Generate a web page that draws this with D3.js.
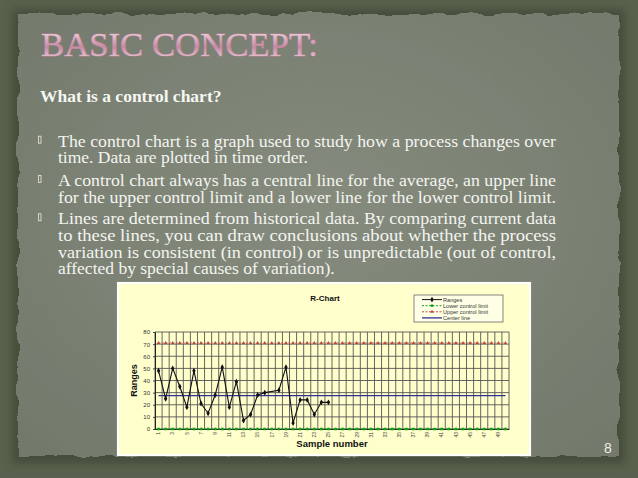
<!DOCTYPE html>
<html>
<head>
<meta charset="utf-8">
<script src="https://cdn.jsdelivr.net/npm/d3@7"></script>
<style>
  html, body { margin: 0; padding: 0; background: #565f4c; }
  svg { display: block; }
</style>
</head>
<body>
<svg id="slide"></svg>
<script>
// sample numbers on the x axis
const samples = d3.range(1, 51);
// measured ranges (null = no value)
const ranges = [48, 25, 50, 35, 18, 48, 21, 13, 28, 51,
                18, 39, 7, 12, 28, 30, null, 32, 51, 5,
                24, 24, 12, 22, 22, null, null, null, null, null,
                null, null, null, null, null, null, null, null, null, null,
                null, null, null, null, null, null, null, null, null, null];
const upperLimit = 71;
const lowerLimit = 0;
const centerLine = 27.6;
const yTicks = [0, 10, 20, 30, 40, 50, 60, 70, 80];
const xTickLabels = samples.filter(d => d % 2 === 1);
const legendLabels = ["Ranges", "Lower control limit", "Upper control limit", "Center line"];

const bullets = [
  ["The control chart is a graph used to study how a process changes over",
   "time. Data are plotted in time order."],
  ["A control chart always has a central line for the average, an upper line",
   "for the upper control limit and a lower line for the lower control limit."],
  ["Lines are determined from historical data. By comparing current data",
   "to these lines, you can draw conclusions about whether the process",
   "variation is consistent (in control) or is unpredictable (out of control,",
   "affected by special causes of variation)."]
];

const W = 638, H = 478;
const svg = d3.select("#slide").attr("width", W).attr("height", H);
const defs = svg.append("defs");

// rough torn paper edge
const rough = defs.append("filter").attr("id", "rough")
    .attr("x", "-5%").attr("y", "-5%").attr("width", "110%").attr("height", "110%");
rough.append("feTurbulence").attr("type", "fractalNoise")
    .attr("baseFrequency", 0.05).attr("numOctaves", 3).attr("seed", 4).attr("result", "n");
rough.append("feDisplacementMap").attr("in", "SourceGraphic").attr("in2", "n")
    .attr("scale", 8).attr("xChannelSelector", "R").attr("yChannelSelector", "G");

const blur = defs.append("filter").attr("id", "blur");
blur.append("feGaussianBlur").attr("stdDeviation", 4);

const paperGrad = defs.append("radialGradient").attr("id", "paperGrad")
    .attr("cx", "50%").attr("cy", "45%").attr("r", "70%");
paperGrad.append("stop").attr("offset", "0%").attr("stop-color", "#858c7e");
paperGrad.append("stop").attr("offset", "100%").attr("stop-color", "#737a6c");

const titleGrad = defs.append("linearGradient").attr("id", "titleGrad")
    .attr("x1", 0).attr("x2", 0).attr("y1", 0).attr("y2", 1);
titleGrad.append("stop").attr("offset", "0%").attr("stop-color", "#f6eaef");
titleGrad.append("stop").attr("offset", "55%").attr("stop-color", "#c68aa3");
titleGrad.append("stop").attr("offset", "100%").attr("stop-color", "#f0e0e6");

// background frame and paper
svg.append("rect").attr("width", W).attr("height", H).attr("fill", "#58614d");
svg.append("rect").attr("x", 12).attr("y", 9).attr("width", 613).attr("height", 455)
    .attr("fill", "#444d3a").attr("filter", "url(#blur)");
svg.append("rect").attr("x", 18).attr("y", 14).attr("width", 601).attr("height", 442)
    .attr("fill", "url(#paperGrad)").attr("filter", "url(#rough)");

// title and text
svg.append("text")
    .attr("x", 41).attr("y", 56)
    .attr("font-family", "Liberation Serif, Times New Roman, serif")
    .attr("font-size", 33)
    .attr("textLength", 277).attr("lengthAdjust", "spacingAndGlyphs")
    .attr("fill", "url(#titleGrad)")
    .attr("stroke", "#b98199").attr("stroke-width", 1.1)
    .attr("paint-order", "stroke")
    .text("BASIC CONCEPT:");

svg.append("text")
    .attr("x", 40).attr("y", 101.5)
    .attr("font-family", "Liberation Serif, Times New Roman, serif")
    .attr("font-weight", "bold").attr("font-size", 17.5)
    .attr("fill", "#f6f6f2")
    .text("What is a control chart?");

const firstBaselines = [146.7, 186, 224.3];
const lineGap = 16.6;
const textLeft = 58, textRight = 556;
bullets.forEach((lines, bi) => {
  const y0 = firstBaselines[bi];
  svg.append("rect")
      .attr("x", 38.5).attr("y", y0 - 10.5).attr("width", 2.5).attr("height", 7)
      .attr("fill", "none").attr("stroke", "#e8e8e2").attr("stroke-width", 0.8);
  lines.forEach((ln, li) => {
    const t = svg.append("text")
        .attr("x", textLeft).attr("y", y0 + li * lineGap)
        .attr("font-family", "Liberation Serif, Times New Roman, serif")
        .attr("font-size", 17.5)
        .attr("fill", "#f4f4f0")
        .text(ln);
    const last = li === lines.length - 1;
    if (!last || bi === 1) {
      t.attr("textLength", textRight - textLeft).attr("lengthAdjust", "spacingAndGlyphs");
    }
  });
});

// chart box
const box = {x: 118, y: 283, w: 412, h: 172};
svg.append("rect").attr("x", box.x - 1).attr("y", box.y - 1)
    .attr("width", box.w + 2).attr("height", box.h + 2)
    .attr("fill", "none").attr("stroke", "#8d8f86").attr("stroke-width", 1);
svg.append("rect").attr("x", box.x).attr("y", box.y)
    .attr("width", box.w).attr("height", box.h)
    .attr("fill", "#ffffcc").attr("stroke", "#ffffff").attr("stroke-width", 2);

const plot = {left: 155, right: 509, top: 332, bottom: 429};
const x = d3.scaleBand().domain(samples).range([plot.left, plot.right]).padding(0);
const y = d3.scaleLinear().domain([0, 80]).range([plot.bottom, plot.top]);
const cx = d => x(d) + x.bandwidth() / 2;

const g = svg.append("g").attr("font-family", "Liberation Sans, Arial, sans-serif");

// gridlines
g.append("g").selectAll("line")
    .data(samples.concat([null]))
  .join("line")
    .attr("x1", d => d === null ? plot.right : x(d))
    .attr("x2", d => d === null ? plot.right : x(d))
    .attr("y1", plot.top).attr("y2", plot.bottom)
    .attr("stroke", "#666").attr("stroke-width", 1);

g.append("g").selectAll("line")
    .data(yTicks)
  .join("line")
    .attr("x1", plot.left).attr("x2", plot.right)
    .attr("y1", d => y(d)).attr("y2", d => y(d))
    .attr("stroke", "#555").attr("stroke-width", 0.9);

// axes
const yAxis = g.append("g")
    .attr("transform", `translate(${plot.left},0)`)
    .call(d3.axisLeft(y).tickValues(yTicks).tickSize(2).tickPadding(3));
yAxis.select(".domain").attr("stroke", "#222");
yAxis.selectAll("text").attr("font-size", 6).attr("fill", "#333");
yAxis.selectAll(".tick line").attr("stroke", "#444");

const xAxis = g.append("g")
    .attr("transform", `translate(0,${plot.bottom})`)
    .call(d3.axisBottom(x).tickValues(xTickLabels).tickSize(0).tickPadding(3));
xAxis.select(".domain").attr("stroke", "#222");
xAxis.selectAll("text")
    .attr("font-size", 5).attr("fill", "#444")
    .attr("text-anchor", "end")
    .attr("dy", "0.35em").attr("x", -3).attr("y", 0)
    .attr("transform", "rotate(-90)");

// control lines
const limitLine = v => d3.line().x(d => cx(d)).y(() => y(v))(samples);

g.append("path").attr("d", limitLine(upperLimit))
    .attr("fill", "none").attr("stroke", "#c0504d").attr("stroke-width", 0.8)
    .attr("stroke-dasharray", "2,1.5");
g.append("g").selectAll("path")
    .data(samples)
  .join("path")
    .attr("transform", d => `translate(${cx(d)},${y(upperLimit)})`)
    .attr("d", d3.symbol(d3.symbolTriangle, 5))
    .attr("fill", "#b8463c");

g.append("path").attr("d", limitLine(lowerLimit))
    .attr("fill", "none").attr("stroke", "#1a9a1a").attr("stroke-width", 1)
    .attr("stroke-dasharray", "2,1.5");
g.append("g").selectAll("rect")
    .data(samples)
  .join("rect")
    .attr("x", d => cx(d) - 1.3).attr("y", y(lowerLimit) - 1.3)
    .attr("width", 2.6).attr("height", 2.6)
    .attr("fill", "#14a014");

g.append("path").attr("d", limitLine(centerLine))
    .attr("fill", "none").attr("stroke", "#2e3192").attr("stroke-width", 1.3);

// ranges series
const rangePts = samples.map((s, i) => ({s, v: ranges[i]})).filter(d => d.v !== null);
g.append("path")
    .attr("d", d3.line().x(d => cx(d.s)).y(d => y(d.v))(rangePts))
    .attr("fill", "none").attr("stroke", "#111").attr("stroke-width", 1.1);
g.append("g").selectAll("path")
    .data(rangePts)
  .join("path")
    .attr("transform", d => `translate(${cx(d.s)},${y(d.v)})`)
    .attr("d", d3.symbol(d3.symbolDiamond, 10))
    .attr("fill", "#111");

// titles
g.append("text").attr("x", 325).attr("y", 301)
    .attr("text-anchor", "middle").attr("font-size", 8).attr("font-weight", "bold")
    .attr("fill", "#111").text("R-Chart");
g.append("text").attr("x", 332).attr("y", 447)
    .attr("text-anchor", "middle").attr("font-size", 9.5).attr("font-weight", "bold")
    .attr("fill", "#111").text("Sample number");
g.append("text")
    .attr("transform", `translate(137,${(plot.top + plot.bottom) / 2}) rotate(-90)`)
    .attr("text-anchor", "middle").attr("font-size", 9).attr("font-weight", "bold")
    .attr("fill", "#111").text("Ranges");

// legend
const lg = g.append("g").attr("transform", "translate(414,295)");
lg.append("rect").attr("width", 89).attr("height", 27)
    .attr("fill", "#ffffe6").attr("stroke", "#666").attr("stroke-width", 0.8);
const legendStyle = [
  {stroke: "#111", dash: null, mark: "diamond", fill: "#111"},
  {stroke: "#1a9a1a", dash: "2,1.5", mark: "square", fill: "#14a014"},
  {stroke: "#c0504d", dash: "2,1.5", mark: "triangle", fill: "#b8463c"},
  {stroke: "#2e3192", dash: null, mark: null, fill: null}
];
const row = lg.selectAll("g.row")
    .data(legendLabels)
  .join("g")
    .attr("class", "row")
    .attr("transform", (d, i) => `translate(0,${4.6 + i * 6.1})`);
row.append("line")
    .attr("x1", 8).attr("x2", 28).attr("y1", 0).attr("y2", 0)
    .attr("stroke", (d, i) => legendStyle[i].stroke)
    .attr("stroke-width", (d, i) => i === 3 ? 1.3 : 1)
    .attr("stroke-dasharray", (d, i) => legendStyle[i].dash);
row.filter((d, i) => legendStyle[i].mark)
  .append("path")
    .attr("transform", "translate(18,0)")
    .attr("d", (d, i) => {
      const m = legendStyle[i].mark;
      const t = m === "diamond" ? d3.symbolDiamond : m === "square" ? d3.symbolSquare : d3.symbolTriangle;
      return d3.symbol(t, m === "diamond" ? 10 : 6)();
    })
    .attr("fill", (d, i) => legendStyle[i].fill);
row.append("text")
    .attr("x", 29).attr("y", 0).attr("dy", "0.35em")
    .attr("font-size", 5.6).attr("fill", "#333")
    .text(d => d);

// page number
svg.append("text").attr("x", 608).attr("y", 453)
    .attr("text-anchor", "middle")
    .attr("font-family", "Liberation Sans, Arial, sans-serif")
    .attr("font-size", 14).attr("fill", "#ecece4")
    .text("8");
</script>
</body>
</html>
